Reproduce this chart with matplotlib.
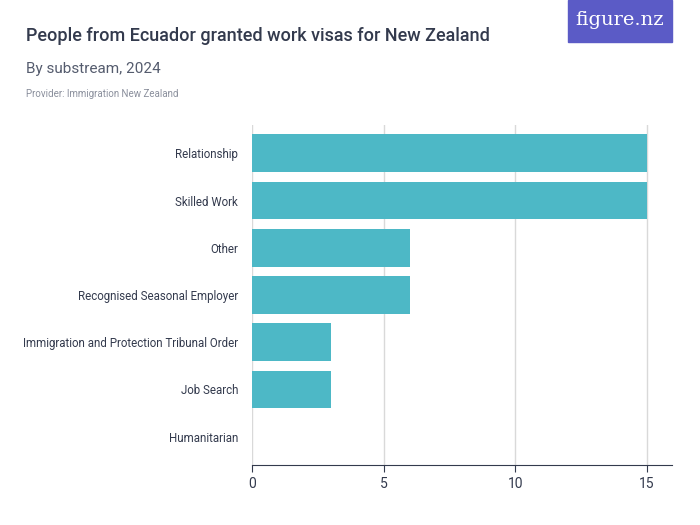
import matplotlib.pyplot as plt

plt.rcParams['font.family'] = ['Roboto', 'DejaVu Sans']

# Data
substreams = ["Relationship", "Skilled Work", "Other", "Recognised Seasonal Employer",
              "Immigration and Protection Tribunal Order", "Job Search", "Humanitarian"]
counts = [15, 15, 6, 6, 3, 3, 0]
xticks = [0, 5, 10, 15]

fig = plt.figure(figsize=(7, 5.25), dpi=100)
ax = fig.add_axes([252 / 700, 60 / 525, 420 / 700, 340 / 525])

ypos = list(range(len(substreams)))
ax.barh(ypos, counts, height=0.8, color='#4db8c6', zorder=2)
ax.set_yticks(ypos)
ax.set_yticklabels(substreams, fontsize=8.3, color='#333a4d')
ax.invert_yaxis()
ax.set_ylim(6.6, -0.6)
ax.set_xlim(0, 15.95)
ax.set_xticks(xticks)
ax.set_xticklabels([str(t) for t in xticks], fontsize=10, color='#333a4d')
ax.grid(axis='x', color='#d9d9d9', linewidth=1, zorder=0)
for s in ['top', 'right', 'left']:
    ax.spines[s].set_visible(False)
ax.spines['bottom'].set_color('#333a4d')
ax.tick_params(axis='y', length=0, pad=10)
ax.tick_params(axis='x', color='#333a4d', length=5)

# Titles
fig.text(26 / 700, 1 - 36 / 525, "People from Ecuador granted work visas for New Zealand",
         fontsize=13, color='#333a4d', va='center', fontweight='medium')
fig.text(26 / 700, 1 - 69 / 525, "By substream, 2024", fontsize=11, color='#555c6e', va='center')
fig.text(26 / 700, 1 - 94 / 525, "Provider: Immigration New Zealand", fontsize=7, color='#8a8f9c', va='center')

# Logo
fig.patches.append(plt.Rectangle((568 / 700, 1 - 42 / 525), 104 / 700, 42 / 525,
                                 transform=fig.transFigure, color='#5b5bc6'))
fig.text(620 / 700, 1 - 20 / 525, "figure.nz", fontsize=14, color='white',
         ha='center', va='center', family=['DejaVu Serif'])

plt.savefig('out.png', dpi=100)
